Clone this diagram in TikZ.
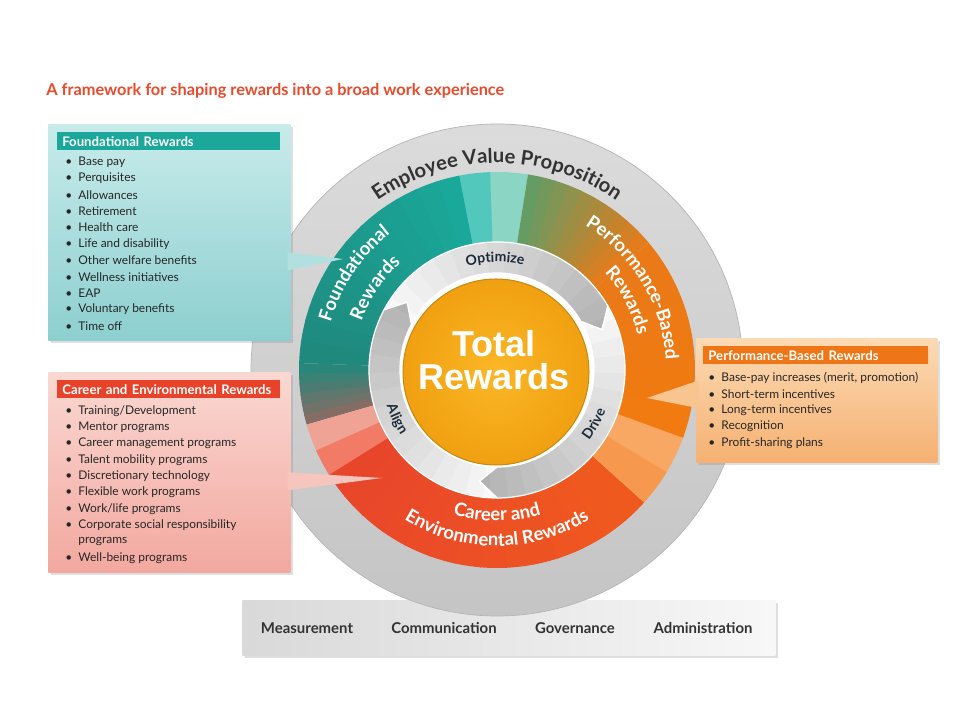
\documentclass[tikz,border=0pt]{standalone}
\usepackage{fontspec}
\setmainfont{Lato}
\newfontfamily\heavyfont{Liberation Sans}
\usetikzlibrary{positioning,calc,decorations.text,shadows}

\definecolor{ringteal}{HTML}{19A99B}
\definecolor{darkteal}{HTML}{1F887C}
\definecolor{brownish}{HTML}{8C6B62}
\definecolor{mint}{HTML}{8AD5C4}
\definecolor{lightteal}{HTML}{52C8BD}
\definecolor{ringgreen}{HTML}{5E9E68}
\definecolor{ringorange}{HTML}{F27A10}
\definecolor{ringorangeb}{HTML}{E97A18}
\definecolor{paleorange}{HTML}{F8A862}
\definecolor{lightorange}{HTML}{F6984E}
\definecolor{ringred}{HTML}{E8452B}
\definecolor{redorange}{HTML}{F05A1E}
\definecolor{salmon}{HTML}{F27B68}
\definecolor{palepink}{HTML}{EFA394}
\definecolor{titlered}{HTML}{E84B2C}
\definecolor{gold}{HTML}{FBB726}
\definecolor{darkgold}{HTML}{F0A010}
\definecolor{hubedge}{HTML}{C98A10}
\definecolor{inkgray}{HTML}{333333}
\definecolor{navyink}{HTML}{1C2B3A}
\definecolor{foundhead}{HTML}{1BA89A}
\definecolor{foundtop}{HTML}{C8EBEB}
\definecolor{foundbot}{HTML}{8DCFCF}
\definecolor{foundpoint}{HTML}{B2E0E0}
\definecolor{careerhead}{HTML}{E8432A}
\definecolor{careertop}{HTML}{FAD8D2}
\definecolor{careerbot}{HTML}{F2A89F}
\definecolor{careerpoint}{HTML}{F6C6BE}
\definecolor{perfhead}{HTML}{EE7616}
\definecolor{perftop}{HTML}{FCDAB4}
\definecolor{perfbot}{HTML}{F5B172}
\definecolor{perfpoint}{HTML}{F8C58F}
\colorlet{arrowgray}{gray!62}
\colorlet{arrowwhite}{white!96!gray}

\newcommand\ringout{198}
\newcommand\ringin{128}
\newcommand\bul{\textbullet\hspace{3.5pt}}
\newcommand\ringfont{\fontsize{10.5}{12}\selectfont\bfseries\color{white}}
\newcommand\evpfont{\fontsize{11.5}{13}\selectfont\bfseries\color{inkgray}}
\newcommand\turnfont{\fontsize{8}{9}\selectfont\bfseries\color{navyink}}

% one annular sector
\newcommand\ringsector[3]{%
  \fill[#3] (#1:\ringout) arc[start angle=#1, end angle=#2, radius=\ringout]
    -- (#2:\ringin) arc[start angle=#2, end angle=#1, radius=\ringin] -- cycle;}
% sectors blending from one colour to another
\newcommand\ringblend[5]{%
  \foreach \k in {1,...,#5}{%
    \pgfmathsetmacro\angA{(#1)+((#2)-(#1))*(\k-1)/#5}%
    \pgfmathsetmacro\angB{(#1)+((#2)-(#1))*\k/#5+0.5*(\k<#5)}%
    \pgfmathsetmacro\mixp{100-100*(\k-0.5)/#5}%
    \ringsector{\angA}{\angB}{#3!\mixp!#4}%
  }}
% one arrow of the inner ring, clockwise from #1 to #2
\newcommand\turnarrow[2]{%
  \begin{scope}
    \clip (#1:128) arc[start angle=#1, end angle=#2, radius=128] -- (#2-9:112.5)
      -- (#2:97) arc[start angle=#2, end angle=#1, radius=97] -- (#1-9:112.5) -- cycle;
    \renewcommand\ringout{131}\renewcommand\ringin{94}
    \ringblend{#2-12}{#1+2}{arrowgray}{arrowwhite}{16}
  \end{scope}
  \draw[white, line width=0.7pt] (#1:128) arc[start angle=#1, end angle=#2, radius=128] -- (#2-9:112.5)
      -- (#2:97) arc[start angle=#2, end angle=#1, radius=97] -- (#1-9:112.5) -- cycle;}

\tikzset{
  panel/.style={anchor=north west, inner sep=0pt,
    drop shadow={opacity=0.25, shadow xshift=1.5pt, shadow yshift=-1.5pt}},
  headbar/.style={anchor=north west, inner xsep=0.1cm, inner ysep=0pt, minimum height=0.36cm,
    text width=4.26cm, align=left, text=white, font=\bfseries\fontsize{7.5}{9}\selectfont},
  listitem/.style={anchor=west, inner sep=0pt, text=black!85, font=\fontsize{6.8}{8.5}\selectfont},
  barlabel/.style={font=\bfseries\fontsize{8.5}{10}\selectfont, text=inkgray},
  curved/.style={decorate, decoration={text along path, text align=center, text={#1}}}
}

\begin{document}
\begin{tikzpicture}[x=0.02cm, y=0.02cm]
  \useasboundingbox (0,0) rectangle (960,720);
  \fill[white] (0,0) rectangle (960,720);
  % Title
  \node[anchor=west, inner sep=0pt, text=titlered, font=\bfseries\fontsize{9.3}{11}\selectfont] (title)
    at (46,629) {A framework for shaping rewards into a broad work experience};
  % Bottom bar
  \node[panel, left color=gray!30, right color=gray!6, minimum width=10.66cm, minimum height=1.1cm] (bar) at (242,120) {};
  \foreach \t/\x [count=\i] in {Measurement/307, Communication/444, Governance/575, Administration/703}
    \node[barlabel] (b\i) at (\x,92) {\t};
  % Outer ring
  \shade[top color=gray!28, bottom color=gray!46] (497,350) circle (246);
  \draw[gray!58, line width=0.4pt] (497,350) circle (246);
  \begin{scope}[shift={(497,350)}]
    \fill[white] (0,0) circle (128);
    % Colour ring
    \ringsector{81}{92.4}{mint}
    \ringsector{92}{101.4}{lightteal}
    \ringblend{101}{178}{ringteal}{darkteal}{12}
    \ringblend{178}{196}{darkteal}{brownish}{6}
    \ringsector{196}{204.4}{palepink}
    \ringsector{204}{212.4}{salmon}
    \ringblend{212}{318}{ringred}{redorange}{14}
    \ringsector{318}{329.4}{lightorange}
    \ringsector{329}{340.4}{paleorange}
    \ringblend{340}{400}{ringorange}{ringorangeb}{6}
    \ringblend{400}{441}{ringorangeb}{ringgreen}{10}
    % Arrows
    \turnarrow{152}{30}
    \turnarrow{30}{-90}
    \turnarrow{270}{152}
    % Ring labels
    \path[curved={|\evpfont|Employee Value Proposition}] (150:207) arc[start angle=150, end angle=30, radius=207];
    \path[curved={|\ringfont|Foundational}] (176:173) arc[start angle=176, end angle=116, radius=173];
    \path[curved={|\ringfont|Rewards}] (180:144) arc[start angle=180, end angle=112, radius=144];
    \path[curved={|\ringfont|Performance-Based}] (70:169) arc[start angle=70, end angle=-8, radius=169];
    \path[curved={|\ringfont|Rewards}] (60:145) arc[start angle=60, end angle=-4, radius=145];
    \path[curved={|\ringfont|Career and}] (-125:151) arc[start angle=-125, end angle=-55, radius=151];
    \path[curved={|\ringfont|Environmental Rewards}] (-140:176) arc[start angle=-140, end angle=-40, radius=176];
    \path[curved={|\turnfont|Optimize}] (125:108) arc[start angle=125, end angle=57, radius=108];
    \path[curved={|\turnfont|Drive}] (-50:116) arc[start angle=-50, end angle=-8, radius=116];
    \path[curved={|\turnfont|Align}] (185:116) arc[start angle=185, end angle=227, radius=116];
  \end{scope}
  % Hub
  \node[circle, minimum size=3.72cm, inner color=gold, outer color=darkgold, draw=hubedge, line width=0.6pt] (hub) at (496,348) {};
  \node[align=center, text=white, font=\heavyfont\bfseries\fontsize{20.5}{19}\selectfont] (total) at (494,360) {Total\\Rewards};
  % Foundational
  \node[panel, top color=foundtop, bottom color=foundbot, minimum width=4.84cm, minimum height=4.32cm] (fpanel) at (48,596) {};
  \node[headbar, fill=foundhead] (fhead) at (57,588) {Foundational Rewards};
  \foreach \t [count=\i] in {Base pay, Perquisites, Allowances, Retirement, Health care, Life and disability,
      Other welfare benefits, Wellness initiatives, EAP, Voluntary benefits, Time off}
    \node[listitem] (f\i) at (65,574.4-16.4*\i) {\bul\t};
  % Career and environmental
  \node[panel, top color=careertop, bottom color=careerbot, minimum width=4.84cm, minimum height=4cm] (cpanel) at (48,348) {};
  \node[headbar, fill=careerhead] (chead) at (57,340) {Career and Environmental Rewards};
  \foreach \t [count=\i] in {Training/Development, Mentor programs, Career management programs, Talent mobility programs,
      Discretionary technology, Flexible work programs, Work/life programs, Corporate social responsibility,
      programs, Well-being programs}
    \node[listitem] (c\i) at (65,325.3-16.3*\i) {\ifnum\i=9 \phantom{\bul}\else\bul\fi\t};
  % Performance-based
  \node[panel, top color=perftop, bottom color=perfbot, minimum width=4.82cm, minimum height=2.48cm] (ppanel) at (696,382) {};
  \node[headbar, fill=perfhead, text width=4.3cm] (phead) at (703,374) {Performance-Based Rewards};
  \foreach \t [count=\i] in {{Base-pay increases (merit, promotion)}, Short-term incentives, Long-term incentives,
      Recognition, Profit-sharing plans}
    \node[listitem] (p\i) at (708,358.2-16.2*\i) {\bul\t};
  % Pointers
  \coordinate (ftip) at (343,461);
  \coordinate (ctip) at (382,242);
  \coordinate (ptip) at (647,322);
  \fill[foundpoint] ([xshift=-0.06cm,yshift=-0.4cm]fpanel.east) -- (ftip) -- ([xshift=-0.06cm,yshift=-0.76cm]fpanel.east) -- cycle;
  \fill[careerpoint] ([xshift=-0.06cm]cpanel.east) -- (ctip) -- ([xshift=-0.06cm,yshift=-0.36cm]cpanel.east) -- cycle;
  \fill[perfpoint] ([xshift=0.06cm,yshift=0.4cm]ppanel.west) -- (ptip) -- ([xshift=0.06cm,yshift=-0.16cm]ppanel.west) -- cycle;
\end{tikzpicture}
\end{document}
